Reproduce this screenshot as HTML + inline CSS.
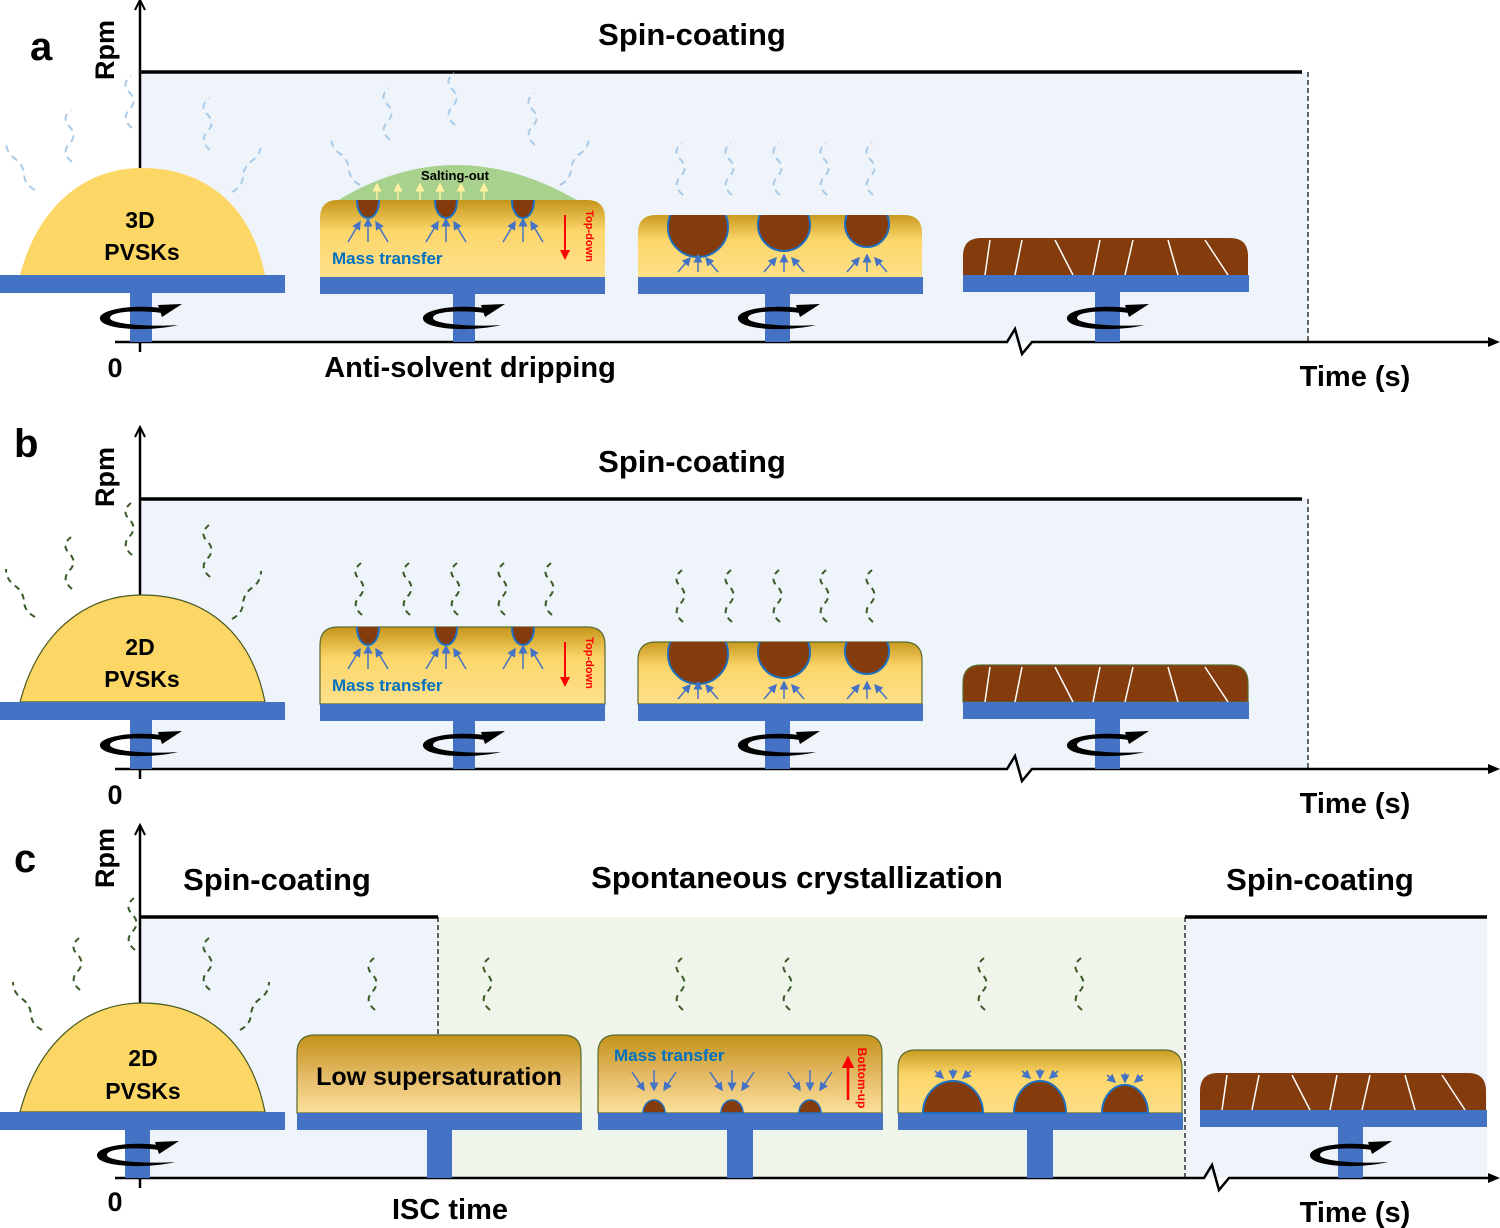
<!DOCTYPE html>
<html><head><meta charset="utf-8"><style>
html,body{margin:0;padding:0;background:#fff}
svg{display:block}
text{font-family:"Liberation Sans",Arial,sans-serif;font-weight:bold}
</style></head><body>
<svg id="s" width="1500" height="1228" viewBox="0 0 1500 1228" xmlns="http://www.w3.org/2000/svg">
<defs>
<linearGradient id="fg" x1="0" y1="0" x2="0" y2="1">
<stop offset="0" stop-color="#c4961a"/><stop offset="0.4" stop-color="#fcd66a"/><stop offset="1" stop-color="#fee08c"/></linearGradient>
<linearGradient id="fg2" x1="0" y1="0" x2="0" y2="1">
<stop offset="0" stop-color="#c4921a"/><stop offset="0.6" stop-color="#e8c070"/><stop offset="1" stop-color="#fbe19a"/></linearGradient>
<linearGradient id="fg3" x1="0" y1="0" x2="0" y2="1">
<stop offset="0" stop-color="#c89a20"/><stop offset="0.4" stop-color="#fcd66a"/><stop offset="1" stop-color="#fedf88"/></linearGradient>
<marker id="ab" markerWidth="6" markerHeight="6" refX="5" refY="3" orient="auto"><path d="M0,0 L6,3 L0,6 z" fill="#4472c4"/></marker>
<marker id="ay" markerWidth="6" markerHeight="6" refX="5" refY="3" orient="auto"><path d="M0,0 L6,3 L0,6 z" fill="#fff0a0"/></marker>
<marker id="ar" markerWidth="5" markerHeight="5" refX="4" refY="2.5" orient="auto"><path d="M0,0 L5,2.5 L0,5 z" fill="#f00"/></marker>
</defs>
<g id="g"></g>
</svg>
<script>
var o='';var cid=0;
function sq(x,y,c,dash){return '<path d="M'+x+','+y+' q-11,-9 -3,-18 q9,-9 0,-18 q-8,-8 2,-16" fill="none" stroke="'+c+'" stroke-width="2" stroke-dasharray="'+dash+'"/>';}
function sqa(x,y,c,dash){return '<path d="M'+x+','+y+' q11,-6 11,-16 q1,-10 10,-16 q8,-6 8,-16" fill="none" stroke="'+c+'" stroke-width="2" stroke-dasharray="'+dash+'"/>';}
function sqb(x,y,c,dash){return '<path d="M'+x+','+y+' q-11,-6 -11,-16 q-1,-10 -10,-16 q-8,-6 -8,-16" fill="none" stroke="'+c+'" stroke-width="2" stroke-dasharray="'+dash+'"/>';}
function rot(cx,cy){
 // crescent C open on right, arrowhead at top right
 return '<path d="M'+(cx+22)+','+(cy-10)+' C'+(cx-10)+','+(cy-14)+' '+(cx-42)+','+(cy-8)+' '+(cx-40)+','+(cy+1)+' C'+(cx-38)+','+(cy+12)+' '+(cx+10)+','+(cy+14)+' '+(cx+38)+','+(cy+7)+' C'+(cx+8)+','+(cy+9)+' '+(cx-30)+','+(cy+6)+' '+(cx-30)+','+(cy)+' C'+(cx-30)+','+(cy-7)+' '+(cx)+','+(cy-8)+' '+(cx+22)+','+(cy-5)+' z" fill="#000"/>'+
 '<path d="M'+(cx+18)+','+(cy-13)+' L'+(cx+42)+','+(cy-14)+' L'+(cx+22)+','+(cy-1)+' z" fill="#000"/>';}
function sub(x1,x2,y,h,sx,sw,yb){return '<rect x="'+sx+'" y="'+y+'" width="'+sw+'" height="'+(yb-y)+'" fill="#4472c4"/><rect x="'+x1+'" y="'+y+'" width="'+(x2-x1)+'" height="'+h+'" fill="#4472c4"/>';}
function film(x1,x2,yt,yb,fill,st){var r=18;return '<path d="M'+x1+','+yb+' L'+x1+','+(yt+r)+' Q'+x1+','+yt+' '+(x1+r)+','+yt+' L'+(x2-r)+','+yt+' Q'+x2+','+yt+' '+x2+','+(yt+r)+' L'+x2+','+yb+' z" fill="'+fill+'" '+(st?'stroke="#5a6a30" stroke-width="1.2"':'')+'/>';}
function arr(x1,y1,x2,y2,m,c,w){return '<line x1="'+x1+'" y1="'+y1+'" x2="'+x2+'" y2="'+y2+'" stroke="'+c+'" stroke-width="'+(w||1.5)+'" marker-end="url(#'+m+')"/>';}
function fan(cx,y0,y1){return arr(cx-20,y0,cx-8,y1,'ab','#4472c4')+arr(cx,y0,cx,y1-3,'ab','#4472c4')+arr(cx+20,y0,cx+8,y1,'ab','#4472c4');}
function hang(x,top,rx,ry,off){cid++;return '<clipPath id="c'+cid+'"><rect x="'+(x-rx-3)+'" y="'+top+'" width="'+(2*rx+6)+'" height="'+(2*ry+10)+'"/></clipPath><ellipse clip-path="url(#c'+cid+')" cx="'+x+'" cy="'+(top+off)+'" rx="'+rx+'" ry="'+ry+'" fill="#843c0c" stroke="#1f6fc0" stroke-width="2"/>';}
function brownfilm(x1,x2,yt,yb,st){var s=film(x1,x2,yt,yb,'#843c0c',st);var xs=[[990,985],[1022,1015],[1055,1073],[1100,1093],[1133,1125],[1168,1178],[1205,1228]];xs.forEach(function(p){var d=p[0]-963;var e=p[1]-963;s+='<line x1="'+(x1+d)+'" y1="'+(yt+2)+'" x2="'+(x1+e)+'" y2="'+yb+'" stroke="#fff" stroke-width="1.5"/>';});return s;}
function axes(top,base,bx){var s='';s+='<line x1="140" y1="'+top+'" x2="140" y2="'+(base+10)+'" stroke="#000" stroke-width="2.5"/>';s+='<path d="M135,'+(top+10)+' L140,'+top+' L145,'+(top+10)+'" fill="none" stroke="#000" stroke-width="2"/>';s+='<path d="M115,'+base+' L'+(bx-18)+','+base+' L'+(bx-8)+','+base+' L'+bx+','+(base-13)+' L'+(bx+7)+','+(base+12)+' L'+(bx+17)+','+base+' L1490,'+base+'" fill="none" stroke="#000" stroke-width="2.5"/><path d="M1488,'+(base-5)+' L1500,'+base+' L1488,'+(base+5)+' z" fill="#000"/>';return s;}
o+='<rect x="140" y="72" width="1168" height="270" fill="#eef4f9"/>';
o+='<rect x="140" y="498" width="1168" height="272" fill="#eef4f9"/>';
o+='<rect x="140" y="917" width="298" height="261" fill="#eef4f9"/><rect x="438" y="917" width="747" height="261" fill="#eff5eb"/><rect x="1185" y="917" width="302" height="261" fill="#eef4f9"/>';
[[0,'#a9cbe8','7,5',false,'3D'],[427,'#3a5a28','6,5',true,'2D']].forEach(function(P){var d=P[0],c=P[1],ds=P[2],st=P[3];
o+=axes(0+d,342+d,1015);
o+='<line x1="140" y1="'+(72+d)+'" x2="1302" y2="'+(72+d)+'" stroke="#000" stroke-width="3.5"/>';
o+='<line x1="1308" y1="'+(72+d)+'" x2="1308" y2="'+(342+d)+'" stroke="#000" stroke-width="1.2" stroke-dasharray="5,3"/>';
o+='<text x="692" y="'+(45+d)+'" font-size="31" text-anchor="middle">Spin-coating</text>';
o+='<text x="1355" y="'+(386+d)+'" font-size="29" text-anchor="middle">Time (s)</text>';
o+='<text x="115" y="'+(377+d)+'" font-size="27" text-anchor="middle">0</text>';
o+='<text transform="translate(114,'+(50+d)+') rotate(-90)" font-size="27" text-anchor="middle">Rpm</text>';
o+=sq(72,162+d,c,ds)+sq(132,128+d,c,ds)+sq(210,150+d,c,ds)+sqa(232,192+d,c,ds)+sqb(35,190+d,c,ds);
if(d==0){o+=sq(390,140,c,ds)+sq(455,125,c,ds)+sq(535,145,c,ds)+sqb(360,185,c,ds)+sqa(560,185,c,ds);}
else{[362,410,458,505,552].forEach(function(x){o+=sq(x,615,c,ds);});}
[683,732,780,827,873].forEach(function(x){o+=sq(x,195+d,c,ds);});
o+='<path d="M20,'+(275+d)+' C40,'+(200+d)+' 90,'+(168+d)+' 142,'+(168+d)+' C200,'+(168+d)+' 250,'+(200+d)+' 265,'+(275+d)+' z" fill="#fdd766" '+(st?'stroke="#4a5a20" stroke-width="1.2"':'')+'/>';
o+=sub(0,285,275+d,18,130,22,342+d);
o+=rot(140,318+d);
o+='<text x="140" y="'+(228+d)+'" font-size="23" text-anchor="middle">'+P[4]+'</text><text x="142" y="'+(260+d)+'" font-size="23" text-anchor="middle">PVSKs</text>';
if(d==0){o+='<path d="M335,202 Q455,128 580,202 z" fill="#a9d18e"/>';
o+='<text x="455" y="180" font-size="13" text-anchor="middle" fill="#000">Salting-out</text>';}
o+=film(320,605,200+d,277+d,'url(#fg)',st);
if(d==0){[377,398,420,440,461,484].forEach(function(x){o+=arr(x,200,x,184,'ay','#fff0a0',1.5);});}
[368,446,523].forEach(function(x){o+=hang(x,200+d,11,17,1);o+=fan(x,242+d,222+d);});
o+=arr(565,215+d,565,258+d,'ar','#f00',2);
o+='<text transform="translate(586,'+(236+d)+') rotate(90)" font-size="11" fill="#f00" text-anchor="middle">Top-down</text>';
o+='<text x="332" y="'+(264+d)+'" font-size="17" fill="#0070c0">Mass transfer</text>';
o+=sub(320,605,277+d,17,453,22,342+d);o+=rot(463,318+d);
o+=film(638,922,215+d,277+d,'url(#fg3)',st);
[[698,30,30,12],[784,26,26,10],[867,22,23,9]].forEach(function(b){var x=b[0];o+=hang(x,215+d,b[1],b[2],b[3]);o+=fan(x,272+d,258+d);});
o+=sub(638,923,277+d,17,765,25,342+d);o+=rot(778,318+d);
o+=brownfilm(963,1248,238+d,275+d,st);
o+=sub(963,1249,275+d,17,1095,25,342+d);o+=rot(1107,318+d);
});
o+='<text x="470" y="377" font-size="29" text-anchor="middle">Anti-solvent dripping</text>';
o+='<text x="30" y="60" font-size="40">a</text><text x="14" y="457" font-size="40">b</text><text x="14" y="872" font-size="40">c</text>';
var c='#3a5a28',ds='6,5';
o+=axes(825,1178,1212);
o+='<line x1="140" y1="917" x2="438" y2="917" stroke="#000" stroke-width="3.5"/><line x1="1185" y1="917" x2="1487" y2="917" stroke="#000" stroke-width="3.5"/>';
o+='<line x1="438" y1="917" x2="438" y2="1178" stroke="#000" stroke-width="1.2" stroke-dasharray="5,3"/><line x1="1185" y1="917" x2="1185" y2="1178" stroke="#000" stroke-width="1.2" stroke-dasharray="5,3"/>';
o+='<text x="277" y="890" font-size="31" text-anchor="middle">Spin-coating</text><text x="797" y="888" font-size="31" text-anchor="middle">Spontaneous crystallization</text><text x="1320" y="890" font-size="31" text-anchor="middle">Spin-coating</text>';
o+='<text x="115" y="1211" font-size="27" text-anchor="middle">0</text><text transform="translate(114,858) rotate(-90)" font-size="27" text-anchor="middle">Rpm</text>';
o+='<text x="1355" y="1222" font-size="29" text-anchor="middle">Time (s)</text><text x="450" y="1219" font-size="29" text-anchor="middle">ISC time</text>';
o+=sq(80,990,c,ds)+sq(135,950,c,ds)+sq(210,990,c,ds)+sqa(240,1030,c,ds)+sqb(42,1030,c,ds);
[375,490,683,790,985,1082].forEach(function(x){o+=sq(x,1010,c,ds);});
o+='<path d="M20,1112 C40,1037 90,1003 142,1003 C200,1003 250,1037 265,1112 z" fill="#fdd766" stroke="#4a5a20" stroke-width="1.2"/>';
o+=sub(0,285,1112,18,125,25,1178);o+=rot(137,1155);
o+='<text x="143" y="1066" font-size="23" text-anchor="middle">2D</text><text x="143" y="1099" font-size="23" text-anchor="middle">PVSKs</text>';
o+=film(297,581,1035,1113,'url(#fg2)',true);o+=sub(297,582,1113,17,427,25,1178);
o+='<text x="439" y="1085" font-size="25" text-anchor="middle">Low supersaturation</text>';
o+=film(598,882,1035,1113,'url(#fg2)',true);o+=sub(598,883,1113,17,727,26,1178);
o+='<text x="614" y="1061" font-size="17" fill="#0070c0">Mass transfer</text>';
[654,732,810].forEach(function(x){o+='<path d="M'+(x-11)+',1113 A11,13 0 0,1 '+(x+11)+',1113 z" fill="#843c0c" stroke="#1f6fc0" stroke-width="1.5"/>';o+=arr(x-22,1072,x-10,1090,'ab','#4472c4')+arr(x,1070,x,1090,'ab','#4472c4')+arr(x+22,1072,x+10,1090,'ab','#4472c4');});
o+=arr(848,1100,848,1058,'ar','#f00',2.5);
o+='<text transform="translate(858,1078) rotate(90)" font-size="12" fill="#f00" text-anchor="middle">Bottom-up</text>';
o+=film(898,1182,1050,1113,'url(#fg3)',true);o+=sub(898,1183,1113,17,1027,26,1178);
[[953,30,32],[1040,26,32],[1125,23,28]].forEach(function(b){var x=b[0];o+='<path d="M'+(x-b[1])+',1113 A'+b[1]+','+b[2]+' 0 0,1 '+(x+b[1])+',1113 z" fill="#843c0c" stroke="#1f6fc0" stroke-width="2"/>';var t=1113-b[2];o+=arr(x-18,t-10,x-10,t-3,'ab','#4472c4')+arr(x,t-12,x,t-3,'ab','#4472c4')+arr(x+18,t-10,x+10,t-3,'ab','#4472c4');});
o+=brownfilm(1200,1486,1073,1110,false);o+=sub(1200,1487,1110,17,1338,25,1178);o+=rot(1350,1155);
document.getElementById('g').innerHTML=o;
</script>
</body></html>
